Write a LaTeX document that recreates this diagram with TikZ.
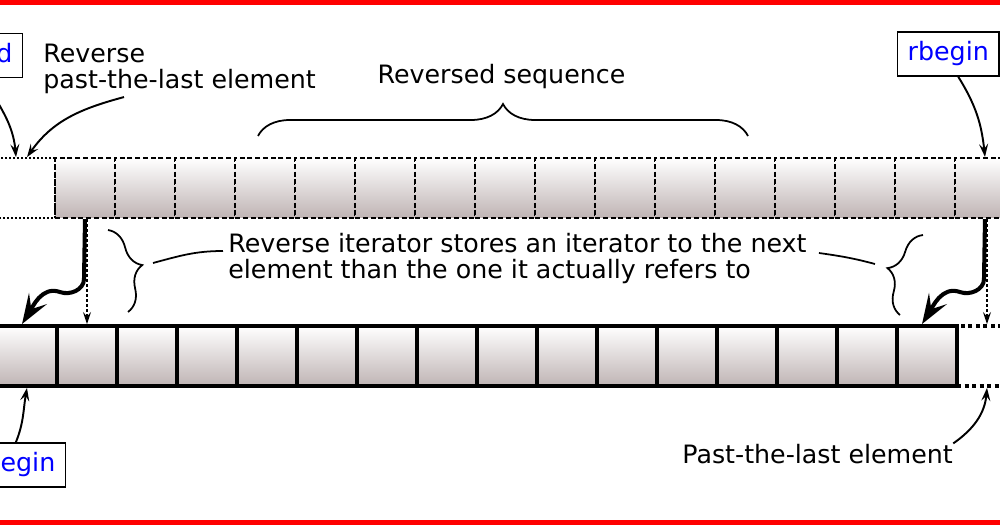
\documentclass[tikz,border=0pt]{standalone}
\usepackage{fontspec}
\setmainfont{DejaVu Sans}
\usetikzlibrary{arrows.meta,calc,decorations.pathreplacing}
\definecolor{cellshade}{RGB}{191,180,180}
\begin{document}
\begin{tikzpicture}[scale=0.2,font=\fontsize{14.4}{14.6}\selectfont]
\tikzstyle{every node}+=[inner sep=0pt]
\tikzstyle{topcell}=[draw,line width=1.2pt,dash pattern=on 1mm off 0.55mm,top color=white,bottom color=cellshade,minimum width=1.2cm,minimum height=1.2cm]
\tikzstyle{botcell}=[draw,line width=2.2pt,top color=white,bottom color=cellshade,minimum width=1.2cm,minimum height=1.2cm]
\tikzstyle{topgap}=[draw,line width=1pt,dash pattern=on 0.4mm off 0.4mm,minimum width=1.2cm,minimum height=1.2cm]
\tikzstyle{botgap}=[draw,line width=2.2pt,dash pattern=on 0.8mm off 0.7mm,minimum width=1.2cm,minimum height=1.2cm]
\tikzstyle{tag}=[draw,line width=0.8pt,fill=white,text=blue,inner xsep=0.2cm,inner ysep=0.19cm,text height=0.385cm,text depth=0.12cm]
\tikzstyle{pointer}=[line width=1.1pt,-{Stealth[length=2.6mm,width=1.8mm,inset=1mm]}]
\tikzstyle{hop}=[line width=1.1pt,dash pattern=on 0.5mm off 0.5mm,-{Stealth[length=2.4mm,width=1.6mm,inset=0.9mm]}]
\tikzstyle{jump}=[line width=2.3pt,-{Stealth[length=6mm,width=4.2mm,inset=2.5mm]}]
\tikzstyle{curly}=[line width=1pt,decorate,decoration={brace,amplitude=0.5cm}]
\useasboundingbox (0,0) rectangle (100,-52.5);
\clip (0,0) rectangle (100,-52.5);
\fill[red] (0,0) rectangle (100,-0.55);
\fill[red] (0,-51.95) rectangle (100,-52.5);
\foreach \i in {1,...,16} {
  \node[topcell] (t\i) at ({2.5+6*\i},-18.8) {};
  \node[botcell] (b\i) at ({-3.3+6*\i},-35.6) {};
}
\node[topgap] (tgap) at (2.5,-18.8) {};
\node[botgap] (bgap) at (98.7,-35.6) {};
\node[tag,anchor=east] (rend) at (2.3,-5.55) {rend};
\node[tag,anchor=west] (rbegin) at (89.7,-5.4) {rbegin};
\node[tag,anchor=east] (begin) at (6.6,-46.5) {begin};
\node[anchor=north west,align=left] (rplabel) at (4.3,-4.4) {Reverse\\past-the-last element};
\node[anchor=base] (rseq) at (50.15,-8.4) {Reversed sequence};
\node[anchor=north west,align=left] (note) at (22.8,-23.3) {Reverse iterator stores an iterator to the next\\element than the one it actually refers to};
\node[anchor=base west] (ptlabel) at (68.2,-46.3) {Past-the-last element};
\coordinate (ltip) at (15.3,-26.3);
\coordinate (rtip) at (87.5,-26.4);
\draw[curly,decoration={brace,amplitude=0.64cm}] (25.8,-13.6) -- (74.8,-13.6);
\draw[curly] (10.8,-23.0) -- (12.8,-31.2);
\draw[curly] (90.0,-31.5) -- (92.3,-23.5);
\draw[line width=1pt] (ltip) to[out=15,in=180] ($(note.north west)+(-0.5,-1.8)$);
\draw[line width=1pt] (rtip) to[out=165,in=-8] ($(note.north east)+(1.2,-2)$);
\draw[pointer] (rend.south) to[out=-60,in=95] ($(tgap.north)+(-0.9,0)$);
\draw[pointer] ($(rplabel.south west)+(8.1,-0.3)$) to[out=195,in=55] ($(tgap.north)+(0.2,0)$);
\draw[pointer] ($(rbegin.south)+(1,0)$) to[out=-58,in=96] (t16.north);
\draw[pointer] ($(begin.north)+(-0.4,0)$) to[out=68,in=-100] (b1.south);
\draw[pointer] (ptlabel.north east) to[out=35,in=-95] (bgap.south);
\draw[hop] (b2.north |- t1.south) -- (b2.north);
\draw[hop] (bgap.north |- t16.south) -- (bgap.north);
\draw[jump] (t1.south) -- ++(-0.1,-6) to[out=-90,in=-20] ++(-2.4,-1.3) to[out=160,in=58] ($(b1.north)+(-0.5,0)$);
\draw[jump] (t16.south) -- ++(-0.1,-6) to[out=-90,in=-20] ++(-2.4,-1.3) to[out=160,in=58] ($(b16.north)+(-0.5,0)$);
\end{tikzpicture}
\end{document}
